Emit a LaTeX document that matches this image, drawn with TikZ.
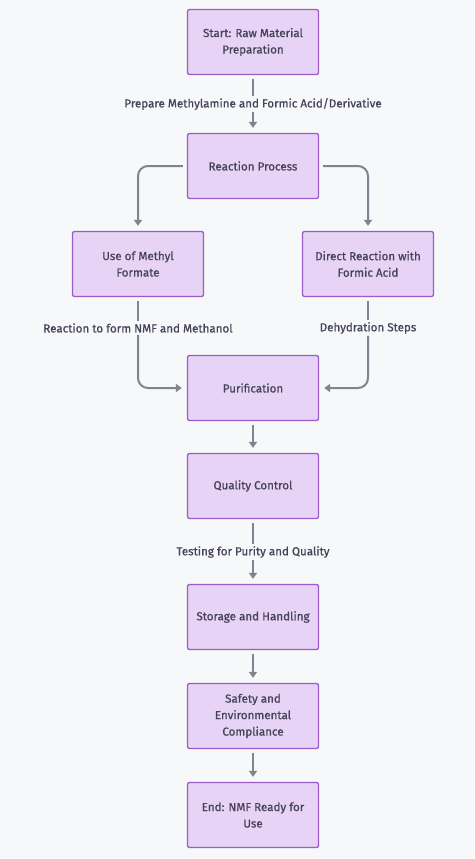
\documentclass[tikz,border=0pt]{standalone}
\usepackage{fontspec}
\setmainfont{Fira Sans}
\newfontfamily\medfont{Fira Sans}[FakeBold=0.8]
\usetikzlibrary{arrows.meta}
\definecolor{boxfill}{HTML}{E6D3F5}
\definecolor{boxline}{HTML}{9B5BC9}
\definecolor{edgegray}{HTML}{7D8690}
\definecolor{ink}{HTML}{464358}
\definecolor{paper}{HTML}{F7F8FA}

\begin{document}
\begin{tikzpicture}
	[x=1pt,y=-1pt,
	box/.style={rectangle,draw=boxline,fill=boxfill,line width=1.3pt,rounded corners=2pt,
		minimum width=131pt,minimum height=65pt,align=center,text=ink,
		font=\medfont\fontsize{11.6}{16.5}\selectfont},
	tag/.style={fill=paper,text=ink,inner sep=2pt,font=\medfont\fontsize{11.6}{13}\selectfont},
	link/.style={draw=edgegray,line width=2pt,rounded corners=10pt,shorten <=4pt},
	arrowlink/.style={link,-{Triangle[length=6pt,width=8pt]},shorten >=5pt}]
	\fill[paper] (0,0) rectangle (474,859);
	\useasboundingbox (0,0) rectangle (474,859);
	\node[box] (start) at (253,42) {Start: Raw Material\\Preparation};
	\node[box] (react) at (253,166) {Reaction Process};
	\node[box] (methyl) at (138,264) {Use of Methyl\\Formate};
	\node[box] (direct) at (368,264) {Direct Reaction with\\Formic Acid};
	\node[box] (purif) at (253,388) {Purification};
	\node[box] (qc) at (253,486) {Quality Control};
	\node[box] (store) at (253,617) {Storage and Handling};
	\node[box] (safety) at (253,716) {Safety and\\Environmental\\Compliance};
	\node[box] (finish) at (253,815) {End: NMF Ready for\\Use};
	% edge labels
	\node[tag] (prep) at (253,104) {Prepare Methylamine and Formic Acid/Derivative};
	\node[tag] (nmf) at (138,328) {Reaction to form NMF and Methanol};
	\node[tag] (dehyd) at (368,328) {Dehydration Steps};
	\node[tag] (test) at (253,552) {Testing for Purity and Quality};
	% connectors
	\draw[link] (start) -- (prep);
	\draw[arrowlink,shorten <=0pt] (prep) -- (react);
	\draw[arrowlink] (react.west) -| (methyl.north);
	\draw[arrowlink] (react.east) -| (direct.north);
	\draw[link] (methyl) -- (nmf);
	\draw[arrowlink,shorten <=0pt] (nmf) |- (purif.west);
	\draw[link] (direct) -- (dehyd);
	\draw[arrowlink,shorten <=0pt] (dehyd) |- (purif.east);
	\draw[arrowlink] (purif) -- (qc);
	\draw[link] (qc) -- (test);
	\draw[arrowlink,shorten <=0pt] (test) -- (store);
	\draw[arrowlink] (store) -- (safety);
	\draw[arrowlink] (safety) -- (finish);
\end{tikzpicture}
\end{document}
